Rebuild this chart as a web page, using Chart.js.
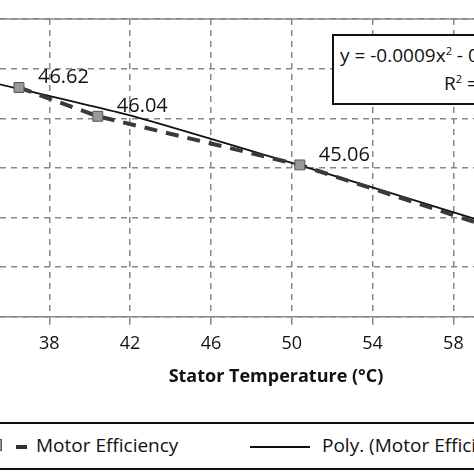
<!DOCTYPE html>
<html>
<head>
<meta charset="utf-8">
<script src="https://cdn.jsdelivr.net/npm/chart.js@4"></script>
<style>
  html, body { margin: 0; padding: 0; background: #fff; overflow: hidden; width: 474px; height: 474px; }
  #wrap { position: absolute; left: -8px; top: 0; width: 568px; height: 392px; }
  .box { position: absolute; left: 332px; top: 34px; width: 260px; height: 67px; border: 2px solid #111; background: #fff; font-family: 'Open Sans', sans-serif; font-size: 19px; color: #111; }
  .legend { position: absolute; left: -20px; top: 422px; width: 600px; height: 44px; border-top: 2px solid #111; border-bottom: 2px solid #111; font-family: 'Open Sans', sans-serif; font-size: 19px; color: #111; }
  .legend span { position: absolute; top: 8px; white-space: nowrap; }
</style>
</head>
<body>
<div id="wrap"><canvas id="chart"></canvas></div>
<div class="box">
  <span style="position:absolute;left:6px;top:6px;white-space:nowrap">y = -0.0009x<sup style="font-size:11px">2</sup> - 0.0715x + 50.1</span>
  <span style="position:absolute;left:110px;top:34px;white-space:nowrap">R<sup style="font-size:11px">2</sup> = 0.9996</span>
</div>
<div class="legend">
  <div style="position:absolute;left:10px;top:15px;width:10px;height:10px;background:#999;border:1px solid #555"></div>
  <div style="position:absolute;left:36px;top:21px;width:11px;height:4px;background:#333"></div>
  <span style="left:56px">Motor Efficiency</span>
  <div style="position:absolute;left:270px;top:22px;width:60px;height:2px;background:#111"></div>
  <span style="left:342px">Poly. (Motor Efficiency)</span>
</div>
<script>
const temps = [36.5, 40.4, 50.4, 59.5];
const efficiency = [46.62, 46.04, 45.06, 43.85];
const labelledPoints = [0, 1, 2];
const trendTemps = [35.5, 42, 50, 58.7, 63];
const trendValues = [46.69, 46.06, 45.1, 44.02, 43.45];
const xTicks = [38, 42, 46, 50, 54, 58, 62];

const valueLabels = {
  id: 'valueLabels',
  afterDatasetsDraw(chart) {
    const { ctx } = chart;
    const meta = chart.getDatasetMeta(0);
    ctx.save();
    ctx.font = '20px "Open Sans", sans-serif';
    ctx.fillStyle = '#111';
    ctx.textBaseline = 'middle';
    labelledPoints.forEach(i => {
      const p = meta.data[i];
      ctx.fillText(efficiency[i].toFixed(2), p.x + 19, p.y - 10);
    });
    ctx.restore();
  }
};

const topLine = {
  id: 'topLine',
  beforeDatasetsDraw(chart) {
    const { ctx, chartArea } = chart;
    ctx.save();
    ctx.strokeStyle = '#888';
    ctx.lineWidth = 1.5;
    ctx.beginPath();
    ctx.moveTo(chartArea.left, chartArea.top);
    ctx.lineTo(chartArea.right, chartArea.top);
    ctx.stroke();
    ctx.restore();
  }
};

new Chart(document.getElementById('chart'), {
  type: 'scatter',
  data: {
    datasets: [
      {
        label: 'Motor Efficiency',
        data: temps.map((t, i) => ({ x: t, y: efficiency[i] })),
        showLine: true,
        borderColor: '#3a3a3a',
        borderWidth: 4,
        borderDash: [13, 9],
        pointStyle: 'rect',
        pointRadius: 7,
        pointBackgroundColor: '#999',
        pointBorderColor: '#555',
        pointBorderWidth: 1
      },
      {
        label: 'Poly. (Motor Efficiency)',
        data: trendTemps.map((t, i) => ({ x: t, y: trendValues[i] })),
        showLine: true,
        borderColor: '#111',
        borderWidth: 1.8,
        pointRadius: 0,
        tension: 0.15
      }
    ]
  },
  options: {
    responsive: true,
    maintainAspectRatio: false,
    animation: false,
    layout: { padding: { top: 19, left: 0, right: 0, bottom: 0 } },
    plugins: { legend: { display: false }, tooltip: { enabled: false } },
    scales: {
      x: {
        type: 'linear',
        min: 35.56,
        max: 62.88,
        afterBuildTicks: axis => { axis.ticks = xTicks.map(v => ({ value: v })); },
        grid: { color: '#888', lineWidth: 1.5, tickLength: 8, borderDash: [6, 5] },
        border: { color: '#888', width: 1.5, dash: [6, 5] },
        ticks: { color: '#111', font: { size: 18, family: 'Open Sans' }, padding: 8, maxRotation: 0 },
        title: { display: true, text: 'Stator Temperature (°C)', color: '#111', font: { size: 18, weight: 'bold', family: 'Open Sans' }, padding: { top: 4 } }
      },
      y: {
        min: 42,
        max: 48,
        ticks: { display: false, stepSize: 1 },
        grid: { color: '#888', lineWidth: 1.5, drawTicks: false },
        border: { display: false, dash: [6, 5] }
      }
    }
  },
  plugins: [valueLabels, topLine]
});
</script>
</body>
</html>
